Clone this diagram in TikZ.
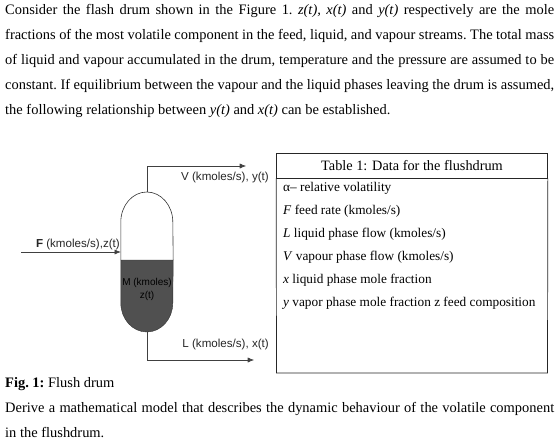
\documentclass[tikz,border=0pt]{standalone}
\usepackage{fontspec}
\setmainfont{Liberation Serif}
\setsansfont{Liberation Sans}
\usepackage{tikz}
\usetikzlibrary{arrows.meta,positioning,calc}
\definecolor{liquidgray}{HTML}{505050}
\tikzset{
  flowarrow/.style={-{Latex[length=2.2mm,width=1.8mm]}, draw=black!75, line width=0.6pt},
  streamlabel/.style={font=\sffamily\fontsize{11.6}{13}\selectfont, inner sep=0pt, text=black!85},
  bodytext/.style={font=\fontsize{14.45}{25}\selectfont\frenchspacing, inner sep=0pt, anchor=north west, text width=549pt, align=justify},
  tablerow/.style={font=\fontsize{13.3}{15}\selectfont, inner sep=0pt, anchor=west}
}
\begin{document}
\begin{tikzpicture}[x=1pt,y=-1pt]
        \useasboundingbox (0,0) rectangle (560,442);
        \node[bodytext] (intro) at (5,4) {Consider the flash drum shown in the Figure 1. \textit{z(t), x(t)} and \textit{y(t)} respectively are the mole\linebreak
          fractions of the most volatile component in the feed, liquid, and vapour streams. The total mass\linebreak
          of liquid and vapour accumulated in the drum, temperature and the pressure are assumed to be\linebreak
          constant. If equilibrium between the vapour and the liquid phases leaving the drum is assumed,\linebreak
          the following relationship between \textit{y(t)} and \textit{x(t)} can be established.};

        % drum
        \node[minimum width=52pt, minimum height=140pt, inner sep=0pt] (drum) at (147,262) {};
        \draw[fill=liquidgray, draw=black!80] (drum.west |- 0,260) -- (drum.west |- 0,303)
          arc[start angle=180, end angle=360, x radius=26pt, y radius=29pt]
          -- (drum.east |- 0,260) -- cycle;
        \draw[draw=black!80, line width=0.6pt] (drum.west |- 0,260) -- (drum.west |- 0,222)
          arc[start angle=180, end angle=0, x radius=26pt, y radius=30pt]
          -- (drum.east |- 0,260);
        \node[streamlabel, font=\sffamily\fontsize{10}{13}\selectfont, align=center, text=black] (hold) at (147,289) {M (kmoles)\\z(t)};

        \coordinate (vapourend) at (246,166);
        \coordinate (liquidend) at (254,360);
        \coordinate (feedstart) at (21,252);
        \draw[flowarrow] (drum.north) |- (vapourend);
        \draw[flowarrow] (drum.south) |- (liquidend);
        \draw[flowarrow] (feedstart) -- (feedstart -| drum.west);

        \node[streamlabel, anchor=east] (vlabel) at (269,177) {V (kmoles/s), y(t)};
        \node[streamlabel, anchor=east] (llabel) at (269,344) {L (kmoles/s), x(t)};
        \node[streamlabel, anchor=east] (flabel) at (120,244) {\textbf{F} (kmoles/s),z(t)};

        % table
        \node[draw=black!85, line width=0.7pt, minimum width=271pt, minimum height=25pt, inner sep=0pt,
          font=\fontsize{14.3}{16}\selectfont] (tabtitle) at (412,165.5) {Table 1: Data for the flushdrum};
        \draw[draw=black!85, line width=0.7pt] (tabtitle.south west) -- (276.5,373) -- (547.5,373) -- (tabtitle.south east);
        \node[tablerow] (rowa) at (283,188) {α– relative volatility};
        \node[tablerow] (rowf) at (283,211) {\textit{F} feed rate (kmoles/s)};
        \node[tablerow] (rowl) at (283,234) {\textit{L} liquid phase flow (kmoles/s)};
        \node[tablerow] (rowv) at (283,257) {\textit{V} vapour phase flow (kmoles/s)};
        \node[tablerow] (rowx) at (283,280) {\textit{x} liquid phase mole fraction};
        \node[tablerow] (rowy) at (283,303) {\textit{y} vapor phase mole fraction z feed composition};

        \node[bodytext] (closing) at (5,377) {\textbf{Fig. 1:} Flush drum\newline
          Derive a mathematical model that describes the dynamic behaviour of the volatile component\linebreak
          in the flushdrum.};
    \end{tikzpicture}
\end{document}
